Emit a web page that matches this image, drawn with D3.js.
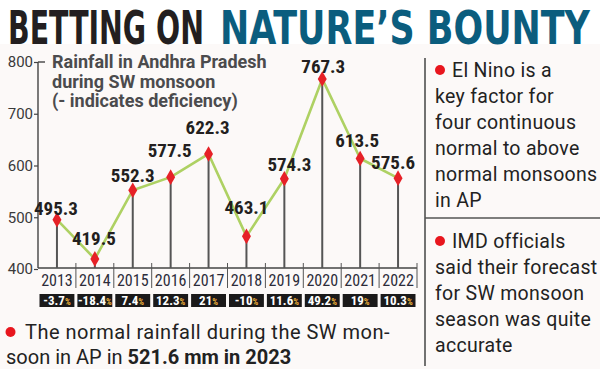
<!DOCTYPE html>
<html>
<head>
<meta charset="utf-8">
<script src="https://cdn.jsdelivr.net/npm/d3@7"></script>
<style>
  html, body { margin: 0; padding: 0; background: #ffffff; }
  svg { display: block; }
</style>
</head>
<body>
<svg id="chart" width="600" height="369"></svg>
<script>
// ---------- data ----------
const years = ["2013","2014","2015","2016","2017","2018","2019","2020","2021","2022"];
const rainfall = [495.3, 419.5, 552.3, 577.5, 622.3, 463.1, 574.3, 767.3, 613.5, 575.6];
const deviation = ["-3.7","-18.4","7.4","12.3","21","-10","11.6","49.2","19","10.3"];
const yTicks = [400, 500, 600, 700, 800];
const titleParts = ["BETTING ON", "NATURE\u2019S BOUNTY"];
const subtitleLines = ["Rainfall in Andhra Pradesh", "during SW monsoon", "(- indicates deficiency)"];
const note1 = ["El Nino is a", "key factor for", "four continuous", "normal to above", "normal monsoons", "in AP"];
const note2 = ["IMD officials", "said their forecast", "for SW monsoon", "season was quite", "accurate"];
const bottomNote = ["The normal rainfall during the SW mon-", "soon in AP in ", "521.6 mm in 2023"];

// label placement nudges (layout only)
const labelNudgeX = [-1, -1, 0, -1, -1, 0, 5, 1, -3, -5];
const labelNudgeY = [-5, -13.5, -8, -20.5, -19.5, -22, -7.5, -5.5, -12, -9];

// ---------- setup ----------
const svg = d3.select("#chart");
const condensed = "'Liberation Sans Narrow', 'Roboto Condensed', 'DejaVu Sans Condensed', Roboto, sans-serif";
const sans = "Roboto, 'Open Sans', sans-serif";

svg.append("rect").attr("x", 0).attr("y", 0).attr("width", 600).attr("height", 369).attr("fill", "#fcf9f8");
svg.append("rect").attr("x", 0).attr("y", 0).attr("width", 600).attr("height", 44).attr("fill", "#ffffff");

// title (scaled horizontally to the reference widths)
const titleFont = "'Liberation Sans Narrow', 'DejaVu Sans Condensed', Roboto, sans-serif";
function fitTitle(txt, x0, w, color) {
  const t = svg.append("text").attr("x", 0).attr("y", 0)
    .attr("font-family", titleFont).attr("font-weight", 900).attr("font-size", 46)
    .attr("fill", color).text(txt);
  const nat = t.node().getComputedTextLength();
  t.attr("transform", `translate(${x0},44) scale(${w / nat},1)`);
}
fitTitle(titleParts[0], 8, 196, "#231f20");
fitTitle(titleParts[1], 220, 370, "#0b5d7e");

// scales
const x = d3.scaleBand().domain(years).range([38, 417]).padding(0);
const y = d3.scaleLinear().domain([400, 800]).range([269, 62]);
const axisY = 268;

// y axis
const yAxis = d3.axisLeft(y).tickValues(yTicks).tickSize(4).tickPadding(3);
const gy = svg.append("g").attr("transform", "translate(38,0)").call(yAxis);
gy.select(".domain").remove();
gy.selectAll(".tick line").attr("stroke", "#444").attr("stroke-width", 1.2);
gy.selectAll(".tick text").attr("font-family", sans).attr("font-size", 15)
  .attr("fill", "#3a3a3a").attr("x", -5);
svg.append("line").attr("x1", 38).attr("x2", 38).attr("y1", y(800)).attr("y2", axisY)
  .attr("stroke", "#444").attr("stroke-width", 1.4);
svg.append("line").attr("x1", 38).attr("x2", 45).attr("y1", y(800)).attr("y2", y(800))
  .attr("stroke", "#444").attr("stroke-width", 1.4);

// x axis
svg.append("line").attr("x1", 38).attr("x2", 417).attr("y1", axisY).attr("y2", axisY)
  .attr("stroke", "#444").attr("stroke-width", 1.4);
const xAxis = d3.axisBottom(x).tickSize(0).tickPadding(0);
const gx = svg.append("g").attr("transform", `translate(0,${axisY})`).call(xAxis);
gx.select(".domain").remove();
gx.selectAll(".tick text").attr("font-family", condensed).attr("font-size", 16)
  .attr("fill", "#2c2c3a").attr("dy", 0).attr("y", 18);
// separators
svg.append("g").selectAll("line").data(years).join("line")
  .attr("x1", d => x(d) + x.bandwidth()).attr("x2", d => x(d) + x.bandwidth())
  .attr("y1", axisY - 5).attr("y2", axisY + 20)
  .attr("stroke", "#555").attr("stroke-width", 1);

// percent boxes
const pg = svg.append("g").selectAll("g").data(years).join("g");
pg.append("rect")
  .attr("x", d => x(d) + 1.5).attr("width", x.bandwidth() - 3)
  .attr("y", 294).attr("height", 13).attr("fill", "#1b1a1a");
const pt = pg.append("text")
  .attr("x", d => x(d) + x.bandwidth() / 2).attr("y", 305)
  .attr("text-anchor", "middle").attr("font-family", condensed).attr("font-weight", 700)
  .attr("font-size", 13);
pt.append("tspan").attr("fill", "#ffffff").text((d, i) => deviation[i]);
pt.append("tspan").attr("fill", "#f2b23a").attr("font-size", 9).text("%");

// subtitle
svg.append("g").selectAll("text").data(subtitleLines).join("text")
  .attr("x", 52).attr("y", (d, i) => 68 + i * 19.5)
  .attr("font-family", sans).attr("font-weight", 700).attr("font-size", 18)
  .attr("fill", "#4b4b4d").text(d => d);

// stems
const pts = years.map((yr, i) => ({ yr, v: rainfall[i], i }));
svg.append("g").selectAll("line").data(pts).join("line")
  .attr("x1", d => x(d.yr) + x.bandwidth() / 2).attr("x2", d => x(d.yr) + x.bandwidth() / 2)
  .attr("y1", d => y(d.v)).attr("y2", axisY)
  .attr("stroke", "#555").attr("stroke-width", 2);

// line
const line = d3.line().x(d => x(d.yr) + x.bandwidth() / 2).y(d => y(d.v));
svg.append("path").datum(pts).attr("d", line)
  .attr("fill", "none").attr("stroke", "#aed163").attr("stroke-width", 2.6)
  .attr("stroke-linejoin", "round");

// markers
svg.append("g").selectAll("path").data(pts).join("path")
  .attr("transform", d => `translate(${x(d.yr) + x.bandwidth() / 2},${y(d.v)})`)
  .attr("d", d3.symbol().type(d3.symbolDiamond).size(70))
  .attr("fill", "#e62127");

// value labels
svg.append("g").selectAll("text").data(pts).join("text")
  .attr("x", d => x(d.yr) + x.bandwidth() / 2 + labelNudgeX[d.i])
  .attr("y", d => y(d.v) + labelNudgeY[d.i])
  .attr("text-anchor", "middle").attr("font-family", condensed).attr("font-weight", 700)
  .attr("font-size", 19).attr("fill", "#231f20")
  .text(d => d.v.toFixed(1));

// right panel
svg.append("line").attr("x1", 425).attr("x2", 425).attr("y1", 58).attr("y2", 366)
  .attr("stroke", "#444").attr("stroke-width", 1.5);
svg.append("line").attr("x1", 425).attr("x2", 600).attr("y1", 218).attr("y2", 218)
  .attr("stroke", "#555").attr("stroke-width", 1.5);

function notes(lines, y0) {
  svg.append("circle").attr("cx", 440).attr("cy", y0 - 7).attr("r", 5).attr("fill", "#e8161e");
  svg.append("g").selectAll("text").data(lines).join("text")
    .attr("x", (d, i) => i === 0 ? 452 : 435)
    .attr("y", (d, i) => y0 + i * 26)
    .attr("font-family", sans).attr("font-size", 19.5).attr("letter-spacing", 0.3)
    .attr("fill", "#222")
    .text(d => d);
}
notes(note1, 77);
notes(note2, 248);

// bottom note
svg.append("circle").attr("cx", 10.5).attr("cy", 332).attr("r", 5).attr("fill", "#e8161e");
svg.append("text").attr("x", 25).attr("y", 339)
  .attr("font-family", sans).attr("font-size", 20).attr("letter-spacing", 0.5).attr("fill", "#222")
  .text(bottomNote[0]);
const b2 = svg.append("text").attr("x", 6).attr("y", 364)
  .attr("font-family", sans).attr("font-size", 20).attr("fill", "#222");
b2.append("tspan").text(bottomNote[1]);
b2.append("tspan").attr("font-weight", 700).text(bottomNote[2]);
</script>
</body>
</html>
